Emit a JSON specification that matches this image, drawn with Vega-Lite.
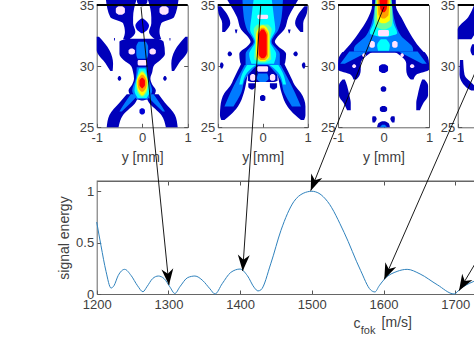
{
"$schema":"https://vega.github.io/schema/vega-lite/v6.json",
"width":474,"height":355,"padding":0,"autosize":{"type":"none"},
"background":"white",
"config":{"view":{"stroke":null},"axis":{"grid":false,"tickSize":-4,"tickColor":"#555555","domainColor":"#666666","labelFont":"Liberation Sans","labelColor":"#404040","labelFontSize":13,"labelPadding":7,"labelOverlap":false,"labelFlush":false,"titleFont":"Liberation Sans","titleFontWeight":"normal","titleColor":"#404040","titleFontSize":14}},
"data":{"values":[
{"p":1,"s":"1a","v":0.05,"z":25,"a":-0.78,"b":-0.52},{"p":1,"s":"1a","v":0.05,"z":26,"a":-0.72,"b":-0.42},{"p":1,"s":"1a","v":0.05,"z":27,"a":-0.5,"b":-0.15},{"p":1,"s":"1a","v":0.05,"z":27.7,"a":-0.34,"b":-0.08},
{"p":1,"s":"1b","v":0.05,"z":25,"a":0.52,"b":0.78},{"p":1,"s":"1b","v":0.05,"z":26,"a":0.42,"b":0.72},{"p":1,"s":"1b","v":0.05,"z":27,"a":0.15,"b":0.5},{"p":1,"s":"1b","v":0.05,"z":27.7,"a":0.08,"b":0.36},
{"p":1,"s":"1c","v":0.05,"z":27.2,"a":-0.02,"b":0.02},{"p":1,"s":"1c","v":0.05,"z":27.4,"a":-0.2,"b":0.2},{"p":1,"s":"1c","v":0.05,"z":28,"a":-0.3,"b":0.3},{"p":1,"s":"1c","v":0.05,"z":28.5,"a":-0.22,"b":0.22},{"p":1,"s":"1c","v":0.05,"z":29,"a":-0.18,"b":0.18},{"p":1,"s":"1c","v":0.05,"z":29.5,"a":-0.2,"b":0.22},{"p":1,"s":"1c","v":0.05,"z":30,"a":-0.24,"b":0.25},{"p":1,"s":"1c","v":0.05,"z":30.5,"a":-0.41,"b":0.4},{"p":1,"s":"1c","v":0.05,"z":31,"a":-0.5,"b":0.5},{"p":1,"s":"1c","v":0.05,"z":32,"a":-0.5,"b":0.47},{"p":1,"s":"1c","v":0.05,"z":32.25,"a":-0.35,"b":0.35},
{"p":1,"s":"1d","v":0.05,"z":32.2,"a":-0.42,"b":-0.28},{"p":1,"s":"1d","v":0.05,"z":32.8,"a":-0.38,"b":-0.15},{"p":1,"s":"1d","v":0.05,"z":33.5,"a":-0.42,"b":-0.2},{"p":1,"s":"1d","v":0.05,"z":34,"a":-0.7,"b":-0.2},{"p":1,"s":"1d","v":0.05,"z":35.5,"a":-0.8,"b":-0.12},
{"p":1,"s":"1e","v":0.05,"z":32.2,"a":0.28,"b":0.42},{"p":1,"s":"1e","v":0.05,"z":32.8,"a":0.15,"b":0.38},{"p":1,"s":"1e","v":0.05,"z":33.5,"a":0.2,"b":0.42},{"p":1,"s":"1e","v":0.05,"z":34,"a":0.2,"b":0.7},{"p":1,"s":"1e","v":0.05,"z":35.5,"a":0.12,"b":0.8},
{"p":1,"s":"1f","v":0.08,"z":32.7,"a":-0.02,"b":0.02},{"p":1,"s":"1f","v":0.08,"z":33,"a":-0.12,"b":0.12},{"p":1,"s":"1f","v":0.08,"z":33.3,"a":-0.15,"b":0.15},{"p":1,"s":"1f","v":0.08,"z":33.6,"a":-0.11,"b":0.11},{"p":1,"s":"1f","v":0.08,"z":33.9,"a":-0.02,"b":0.02},
{"p":1,"s":"1g","v":0.05,"z":34.9,"a":-0.02,"b":0.02},{"p":1,"s":"1g","v":0.05,"z":35.2,"a":-0.11,"b":0.11},{"p":1,"s":"1g","v":0.05,"z":35.5,"a":-0.12,"b":0.12},
{"p":1,"s":"1h","v":0.05,"z":29.6,"a":-0.7,"b":-0.65},{"p":1,"s":"1h","v":0.05,"z":30.2,"a":-0.8,"b":-0.64},{"p":1,"s":"1h","v":0.05,"z":31.3,"a":-1,"b":-0.72},{"p":1,"s":"1h","v":0.05,"z":32.4,"a":-1,"b":-0.95},
{"p":1,"s":"1i","v":0.05,"z":29.6,"a":0.65,"b":0.7},{"p":1,"s":"1i","v":0.05,"z":30.2,"a":0.64,"b":0.8},{"p":1,"s":"1i","v":0.05,"z":31.3,"a":0.72,"b":1},{"p":1,"s":"1i","v":0.05,"z":32.4,"a":0.95,"b":1},
{"p":1,"s":"1j","v":0.05,"z":28.8,"a":-0.51,"b":-0.49},{"p":1,"s":"1j","v":0.05,"z":29,"a":-0.54,"b":-0.46},{"p":1,"s":"1j","v":0.05,"z":29.2,"a":-0.51,"b":-0.49},
{"p":1,"s":"1k","v":0.05,"z":28.8,"a":0.49,"b":0.51},{"p":1,"s":"1k","v":0.05,"z":29,"a":0.46,"b":0.54},{"p":1,"s":"1k","v":0.05,"z":29.2,"a":0.49,"b":0.51},
{"p":1,"s":"1l","v":0.08,"z":26.05,"a":-0.02,"b":0.02},{"p":1,"s":"1l","v":0.08,"z":26.2,"a":-0.06,"b":0.06},{"p":1,"s":"1l","v":0.08,"z":26.4,"a":-0.06,"b":0.06},{"p":1,"s":"1l","v":0.08,"z":26.55,"a":-0.02,"b":0.02},
{"p":1,"s":"1m","v":0.05,"z":32.1,"a":-0.62,"b":-0.6},{"p":1,"s":"1m","v":0.05,"z":32.3,"a":-0.62,"b":-0.6},
{"p":1,"s":"1n","v":0.05,"z":32.1,"a":0.6,"b":0.62},{"p":1,"s":"1n","v":0.05,"z":32.3,"a":0.6,"b":0.62},
{"p":1,"s":"1o","v":0.2,"z":26.3,"a":-0.5,"b":-0.45},{"p":1,"s":"1o","v":0.2,"z":27,"a":-0.38,"b":-0.25},{"p":1,"s":"1o","v":0.2,"z":27.7,"a":-0.25,"b":-0.08},
{"p":1,"s":"1p","v":0.2,"z":26.3,"a":0.45,"b":0.5},{"p":1,"s":"1p","v":0.2,"z":27,"a":0.25,"b":0.38},{"p":1,"s":"1p","v":0.2,"z":27.7,"a":0.08,"b":0.25},
{"p":1,"s":"1q","v":0.2,"z":30.6,"a":-0.1,"b":0.1},{"p":1,"s":"1q","v":0.2,"z":31,"a":-0.13,"b":0.13},{"p":1,"s":"1q","v":0.2,"z":31.6,"a":-0.13,"b":0.13},{"p":1,"s":"1q","v":0.2,"z":32,"a":-0.08,"b":0.08},
{"p":1,"s":"1r","v":0.2,"z":27.3,"a":-0.12,"b":0.12},{"p":1,"s":"1r","v":0.2,"z":28,"a":-0.22,"b":0.22},{"p":1,"s":"1r","v":0.2,"z":29,"a":-0.14,"b":0.14},{"p":1,"s":"1r","v":0.2,"z":29.9,"a":-0.12,"b":0.12},
{"p":1,"s":"1s","v":0.375,"z":27.4,"a":-0.1,"b":0.1},{"p":1,"s":"1s","v":0.375,"z":28,"a":-0.17,"b":0.17},{"p":1,"s":"1s","v":0.375,"z":29,"a":-0.12,"b":0.12},{"p":1,"s":"1s","v":0.375,"z":29.8,"a":-0.07,"b":0.07},
{"p":1,"s":"1t","v":0.5,"z":27.5,"a":-0.03,"b":0.03},{"p":1,"s":"1t","v":0.5,"z":27.9,"a":-0.11,"b":0.11},{"p":1,"s":"1t","v":0.5,"z":28.5,"a":-0.13,"b":0.13},{"p":1,"s":"1t","v":0.5,"z":29.2,"a":-0.1,"b":0.1},{"p":1,"s":"1t","v":0.5,"z":29.65,"a":-0.02,"b":0.02},
{"p":1,"s":"1u","v":0.625,"z":27.6,"a":-0.02,"b":0.02},{"p":1,"s":"1u","v":0.625,"z":28.1,"a":-0.1,"b":0.1},{"p":1,"s":"1u","v":0.625,"z":28.7,"a":-0.12,"b":0.12},{"p":1,"s":"1u","v":0.625,"z":29.2,"a":-0.08,"b":0.08},{"p":1,"s":"1u","v":0.625,"z":29.5,"a":-0.02,"b":0.02},
{"p":1,"s":"1v","v":0.75,"z":27.9,"a":-0.02,"b":0.02},{"p":1,"s":"1v","v":0.75,"z":28.3,"a":-0.09,"b":0.09},{"p":1,"s":"1v","v":0.75,"z":28.7,"a":-0.1,"b":0.1},{"p":1,"s":"1v","v":0.75,"z":29.05,"a":-0.07,"b":0.07},{"p":1,"s":"1v","v":0.75,"z":29.3,"a":-0.02,"b":0.02},
{"p":1,"s":"1w","v":0.875,"z":28.2,"a":-0.01,"b":0.01},{"p":1,"s":"1w","v":0.875,"z":28.45,"a":-0.06,"b":0.06},{"p":1,"s":"1w","v":0.875,"z":28.8,"a":-0.06,"b":0.06},{"p":1,"s":"1w","v":0.875,"z":29.05,"a":-0.01,"b":0.01},
{"p":1,"s":"1x","v":0,"z":34.2,"a":-0.52,"b":-0.44},{"p":1,"s":"1x","v":0,"z":34.4,"a":-0.58,"b":-0.38},{"p":1,"s":"1x","v":0,"z":34.7,"a":-0.58,"b":-0.38},{"p":1,"s":"1x","v":0,"z":34.9,"a":-0.52,"b":-0.44},
{"p":1,"s":"1y","v":0,"z":34.2,"a":0.44,"b":0.52},{"p":1,"s":"1y","v":0,"z":34.4,"a":0.38,"b":0.58},{"p":1,"s":"1y","v":0,"z":34.7,"a":0.38,"b":0.58},{"p":1,"s":"1y","v":0,"z":34.9,"a":0.44,"b":0.52},
{"p":1,"s":"1z","v":0,"z":30.95,"a":-0.25,"b":-0.21},{"p":1,"s":"1z","v":0,"z":31.1,"a":-0.3,"b":-0.16},{"p":1,"s":"1z","v":0,"z":31.3,"a":-0.3,"b":-0.16},{"p":1,"s":"1z","v":0,"z":31.45,"a":-0.25,"b":-0.21},
{"p":1,"s":"1A","v":0,"z":30.95,"a":0.21,"b":0.25},{"p":1,"s":"1A","v":0,"z":31.1,"a":0.16,"b":0.3},{"p":1,"s":"1A","v":0,"z":31.3,"a":0.16,"b":0.3},{"p":1,"s":"1A","v":0,"z":31.45,"a":0.21,"b":0.25},
{"p":1,"s":"1B","v":0,"z":30.05,"a":-0.08,"b":0.08},{"p":1,"s":"1B","v":0,"z":30.15,"a":-0.1,"b":0.1},{"p":1,"s":"1B","v":0,"z":30.4,"a":-0.1,"b":0.1},{"p":1,"s":"1B","v":0,"z":30.5,"a":-0.08,"b":0.08},

{"p":2,"s":"2a","v":0.05,"z":25.6,"a":-0.92,"b":-0.85},{"p":2,"s":"2a","v":0.05,"z":26,"a":-0.95,"b":-0.72},{"p":2,"s":"2a","v":0.05,"z":26.7,"a":-0.94,"b":-0.55},{"p":2,"s":"2a","v":0.05,"z":27.8,"a":-0.85,"b":-0.42},{"p":2,"s":"2a","v":0.05,"z":28.4,"a":-0.72,"b":-0.38},{"p":2,"s":"2a","v":0.05,"z":29,"a":-0.64,"b":-0.35},{"p":2,"s":"2a","v":0.05,"z":29.6,"a":-0.56,"b":-0.3},{"p":2,"s":"2a","v":0.05,"z":30.2,"a":-0.48,"b":-0.1},
{"p":2,"s":"2b","v":0.05,"z":25.6,"a":0.85,"b":0.92},{"p":2,"s":"2b","v":0.05,"z":26,"a":0.72,"b":0.95},{"p":2,"s":"2b","v":0.05,"z":26.7,"a":0.55,"b":0.95},{"p":2,"s":"2b","v":0.05,"z":27.8,"a":0.42,"b":0.85},{"p":2,"s":"2b","v":0.05,"z":28.4,"a":0.38,"b":0.72},{"p":2,"s":"2b","v":0.05,"z":29,"a":0.35,"b":0.64},{"p":2,"s":"2b","v":0.05,"z":29.6,"a":0.3,"b":0.56},{"p":2,"s":"2b","v":0.05,"z":30.2,"a":0.1,"b":0.48},
{"p":2,"s":"2c","v":0.05,"z":29.7,"a":-0.3,"b":0.3},{"p":2,"s":"2c","v":0.05,"z":30.3,"a":-0.5,"b":0.5},{"p":2,"s":"2c","v":0.05,"z":31,"a":-0.52,"b":0.52},{"p":2,"s":"2c","v":0.05,"z":31.7,"a":-0.32,"b":0.32},{"p":2,"s":"2c","v":0.05,"z":32,"a":-0.27,"b":0.27},{"p":2,"s":"2c","v":0.05,"z":32.4,"a":-0.33,"b":0.33},{"p":2,"s":"2c","v":0.05,"z":33,"a":-0.48,"b":0.48},{"p":2,"s":"2c","v":0.05,"z":34,"a":-0.57,"b":0.57},{"p":2,"s":"2c","v":0.05,"z":35,"a":-0.72,"b":0.72},{"p":2,"s":"2c","v":0.05,"z":35.5,"a":-0.8,"b":0.8},
{"p":2,"s":"2d","v":0.05,"z":28.7,"a":-0.25,"b":0.25},{"p":2,"s":"2d","v":0.05,"z":28.8,"a":-0.33,"b":0.33},{"p":2,"s":"2d","v":0.05,"z":29.4,"a":-0.33,"b":0.33},{"p":2,"s":"2d","v":0.05,"z":29.9,"a":-0.25,"b":0.25},
{"p":2,"s":"2e","v":0.05,"z":32.8,"a":-0.9,"b":-0.84},{"p":2,"s":"2e","v":0.05,"z":33.5,"a":-0.9,"b":-0.72},{"p":2,"s":"2e","v":0.05,"z":34.3,"a":-0.98,"b":-0.8},{"p":2,"s":"2e","v":0.05,"z":34.9,"a":-1,"b":-0.93},
{"p":2,"s":"2f","v":0.05,"z":32.8,"a":0.84,"b":0.9},{"p":2,"s":"2f","v":0.05,"z":33.5,"a":0.72,"b":0.9},{"p":2,"s":"2f","v":0.05,"z":34.3,"a":0.8,"b":0.98},{"p":2,"s":"2f","v":0.05,"z":34.9,"a":0.93,"b":1},
{"p":2,"s":"2g","v":0.05,"z":30.8,"a":-0.75,"b":-0.72},{"p":2,"s":"2g","v":0.05,"z":31,"a":-0.78,"b":-0.68},{"p":2,"s":"2g","v":0.05,"z":31.2,"a":-0.75,"b":-0.72},
{"p":2,"s":"2h","v":0.05,"z":30.8,"a":0.72,"b":0.75},{"p":2,"s":"2h","v":0.05,"z":31,"a":0.68,"b":0.78},{"p":2,"s":"2h","v":0.05,"z":31.2,"a":0.72,"b":0.75},
{"p":2,"s":"2i","v":0.05,"z":29.8,"a":-0.93,"b":-0.9},{"p":2,"s":"2i","v":0.05,"z":30.1,"a":-0.95,"b":-0.87},{"p":2,"s":"2i","v":0.05,"z":30.3,"a":-0.93,"b":-0.9},
{"p":2,"s":"2j","v":0.05,"z":29.8,"a":0.9,"b":0.93},{"p":2,"s":"2j","v":0.05,"z":30.1,"a":0.87,"b":0.95},{"p":2,"s":"2j","v":0.05,"z":30.3,"a":0.9,"b":0.93},
{"p":2,"s":"2k","v":0.05,"z":32.7,"a":-0.6,"b":-0.58},{"p":2,"s":"2k","v":0.05,"z":33,"a":-0.62,"b":-0.56},
{"p":2,"s":"2l","v":0.05,"z":32.7,"a":0.58,"b":0.6},{"p":2,"s":"2l","v":0.05,"z":33,"a":0.56,"b":0.62},
{"p":2,"s":"2m","v":0.05,"z":28.1,"a":-0.26,"b":-0.22},{"p":2,"s":"2m","v":0.05,"z":28.3,"a":-0.32,"b":-0.16},{"p":2,"s":"2m","v":0.05,"z":28.6,"a":-0.32,"b":-0.16},
{"p":2,"s":"2n","v":0.05,"z":28.1,"a":0.22,"b":0.26},{"p":2,"s":"2n","v":0.05,"z":28.3,"a":0.16,"b":0.32},{"p":2,"s":"2n","v":0.05,"z":28.6,"a":0.16,"b":0.32},
{"p":2,"s":"2o","v":0.05,"z":27.15,"a":-0.02,"b":0.02},{"p":2,"s":"2o","v":0.05,"z":27.3,"a":-0.06,"b":0.06},{"p":2,"s":"2o","v":0.05,"z":27.5,"a":-0.06,"b":0.06},{"p":2,"s":"2o","v":0.05,"z":27.65,"a":-0.02,"b":0.02},
{"p":2,"s":"2p","v":0.2,"z":26.7,"a":-0.85,"b":-0.65},{"p":2,"s":"2p","v":0.2,"z":27.8,"a":-0.72,"b":-0.48},{"p":2,"s":"2p","v":0.2,"z":29,"a":-0.56,"b":-0.38},{"p":2,"s":"2p","v":0.2,"z":30.1,"a":-0.4,"b":-0.12},
{"p":2,"s":"2q","v":0.2,"z":26.7,"a":0.65,"b":0.85},{"p":2,"s":"2q","v":0.2,"z":27.8,"a":0.48,"b":0.72},{"p":2,"s":"2q","v":0.2,"z":29,"a":0.38,"b":0.56},{"p":2,"s":"2q","v":0.2,"z":30.1,"a":0.12,"b":0.4},
{"p":2,"s":"2C","v":0.375,"z":28.5,"a":-0.52,"b":-0.45},{"p":2,"s":"2C","v":0.375,"z":29.5,"a":-0.44,"b":-0.34},{"p":2,"s":"2C","v":0.375,"z":30.2,"a":-0.33,"b":-0.12},
{"p":2,"s":"2D","v":0.375,"z":28.5,"a":0.45,"b":0.52},{"p":2,"s":"2D","v":0.375,"z":29.5,"a":0.34,"b":0.44},{"p":2,"s":"2D","v":0.375,"z":30.2,"a":0.12,"b":0.33},
{"p":2,"s":"2r","v":0.2,"z":28.7,"a":-0.06,"b":0.06},{"p":2,"s":"2r","v":0.2,"z":29,"a":-0.13,"b":0.13},{"p":2,"s":"2r","v":0.2,"z":29.4,"a":-0.1,"b":0.1},
{"p":2,"s":"2s","v":0.2,"z":30.1,"a":-0.38,"b":0.38},{"p":2,"s":"2s","v":0.2,"z":31,"a":-0.38,"b":0.38},{"p":2,"s":"2s","v":0.2,"z":32,"a":-0.2,"b":0.2},{"p":2,"s":"2s","v":0.2,"z":33,"a":-0.35,"b":0.35},{"p":2,"s":"2s","v":0.2,"z":34,"a":-0.42,"b":0.42},{"p":2,"s":"2s","v":0.2,"z":35.5,"a":-0.45,"b":0.45},
{"p":2,"s":"2t","v":0.375,"z":30.2,"a":-0.25,"b":0.25},{"p":2,"s":"2t","v":0.375,"z":31,"a":-0.3,"b":0.3},{"p":2,"s":"2t","v":0.375,"z":32,"a":-0.17,"b":0.17},{"p":2,"s":"2t","v":0.375,"z":33,"a":-0.28,"b":0.28},{"p":2,"s":"2t","v":0.375,"z":34,"a":-0.25,"b":0.25},{"p":2,"s":"2t","v":0.375,"z":35.5,"a":-0.2,"b":0.2},
{"p":2,"s":"2u","v":0.5,"z":30.3,"a":-0.05,"b":0.05},{"p":2,"s":"2u","v":0.5,"z":30.6,"a":-0.19,"b":0.19},{"p":2,"s":"2u","v":0.5,"z":32,"a":-0.16,"b":0.16},{"p":2,"s":"2u","v":0.5,"z":33,"a":-0.2,"b":0.2},{"p":2,"s":"2u","v":0.5,"z":33.4,"a":-0.12,"b":0.12},
{"p":2,"s":"2v","v":0.625,"z":30.4,"a":-0.05,"b":0.05},{"p":2,"s":"2v","v":0.625,"z":30.8,"a":-0.15,"b":0.15},{"p":2,"s":"2v","v":0.625,"z":32.5,"a":-0.15,"b":0.15},{"p":2,"s":"2v","v":0.625,"z":33.2,"a":-0.08,"b":0.08},{"p":2,"s":"2v","v":0.625,"z":33.35,"a":-0.02,"b":0.02},
{"p":2,"s":"2w","v":0.75,"z":30.5,"a":-0.05,"b":0.05},{"p":2,"s":"2w","v":0.75,"z":30.9,"a":-0.12,"b":0.12},{"p":2,"s":"2w","v":0.75,"z":32.6,"a":-0.12,"b":0.12},{"p":2,"s":"2w","v":0.75,"z":33.15,"a":-0.03,"b":0.03},
{"p":2,"s":"2x","v":0.875,"z":30.65,"a":-0.03,"b":0.03},{"p":2,"s":"2x","v":0.875,"z":31,"a":-0.09,"b":0.09},{"p":2,"s":"2x","v":0.875,"z":32.5,"a":-0.09,"b":0.09},{"p":2,"s":"2x","v":0.875,"z":33,"a":-0.03,"b":0.03},
{"p":2,"s":"2y","v":0,"z":33.85,"a":-0.1,"b":0.1},{"p":2,"s":"2y","v":0,"z":33.95,"a":-0.12,"b":0.12},{"p":2,"s":"2y","v":0,"z":34.1,"a":-0.12,"b":0.12},{"p":2,"s":"2y","v":0,"z":34.2,"a":-0.1,"b":0.1},
{"p":2,"s":"2z","v":0,"z":29.55,"a":-0.1,"b":0.1},{"p":2,"s":"2z","v":0,"z":29.65,"a":-0.12,"b":0.12},{"p":2,"s":"2z","v":0,"z":29.9,"a":-0.12,"b":0.12},{"p":2,"s":"2z","v":0,"z":30,"a":-0.1,"b":0.1},
{"p":2,"s":"2A","v":0,"z":28.8,"a":-0.24,"b":-0.2},{"p":2,"s":"2A","v":0,"z":28.95,"a":-0.28,"b":-0.16},{"p":2,"s":"2A","v":0,"z":29.2,"a":-0.28,"b":-0.16},{"p":2,"s":"2A","v":0,"z":29.35,"a":-0.24,"b":-0.2},
{"p":2,"s":"2B","v":0,"z":28.8,"a":0.2,"b":0.24},{"p":2,"s":"2B","v":0,"z":28.95,"a":0.16,"b":0.28},{"p":2,"s":"2B","v":0,"z":29.2,"a":0.16,"b":0.28},{"p":2,"s":"2B","v":0,"z":29.35,"a":0.2,"b":0.24},

{"p":3,"s":"3a","v":0.05,"z":31.1,"a":-0.9,"b":0.9},{"p":3,"s":"3a","v":0.05,"z":31.5,"a":-0.8,"b":0.8},{"p":3,"s":"3a","v":0.05,"z":32.7,"a":-0.55,"b":0.58},{"p":3,"s":"3a","v":0.05,"z":33.8,"a":-0.36,"b":0.42},{"p":3,"s":"3a","v":0.05,"z":35,"a":-0.25,"b":0.27},{"p":3,"s":"3a","v":0.05,"z":35.5,"a":-0.25,"b":0.27},
{"p":3,"s":"3b","v":0.05,"z":28.9,"a":-0.66,"b":-0.6},{"p":3,"s":"3b","v":0.05,"z":29.3,"a":-0.72,"b":-0.52},{"p":3,"s":"3b","v":0.05,"z":29.7,"a":-1,"b":-0.5},{"p":3,"s":"3b","v":0.05,"z":30.2,"a":-1,"b":-0.5},{"p":3,"s":"3b","v":0.05,"z":30.7,"a":-0.98,"b":-0.42},{"p":3,"s":"3b","v":0.05,"z":31.15,"a":-0.9,"b":-0.25},
{"p":3,"s":"3c","v":0.05,"z":28.9,"a":0.6,"b":0.66},{"p":3,"s":"3c","v":0.05,"z":29.3,"a":0.52,"b":0.72},{"p":3,"s":"3c","v":0.05,"z":29.7,"a":0.5,"b":1},{"p":3,"s":"3c","v":0.05,"z":30.2,"a":0.5,"b":1},{"p":3,"s":"3c","v":0.05,"z":30.7,"a":0.42,"b":0.98},{"p":3,"s":"3c","v":0.05,"z":31.15,"a":0.25,"b":0.9},
{"p":3,"s":"3d","v":0.05,"z":26.4,"a":-0.8,"b":-0.72},{"p":3,"s":"3d","v":0.05,"z":27,"a":-0.88,"b":-0.72},{"p":3,"s":"3d","v":0.05,"z":27.6,"a":-0.98,"b":-0.75},{"p":3,"s":"3d","v":0.05,"z":28.4,"a":-0.98,"b":-0.8},{"p":3,"s":"3d","v":0.05,"z":28.9,"a":-0.9,"b":-0.85},
{"p":3,"s":"3e","v":0.05,"z":26.4,"a":0.72,"b":0.8},{"p":3,"s":"3e","v":0.05,"z":27,"a":0.72,"b":0.88},{"p":3,"s":"3e","v":0.05,"z":27.6,"a":0.75,"b":0.98},{"p":3,"s":"3e","v":0.05,"z":28.4,"a":0.8,"b":0.98},{"p":3,"s":"3e","v":0.05,"z":28.9,"a":0.85,"b":0.9},
{"p":3,"s":"3f","v":0.06,"z":29.45,"a":-0.03,"b":0.03},{"p":3,"s":"3f","v":0.06,"z":29.65,"a":-0.1,"b":0.1},{"p":3,"s":"3f","v":0.06,"z":29.95,"a":-0.1,"b":0.1},{"p":3,"s":"3f","v":0.06,"z":30.15,"a":-0.03,"b":0.03},
{"p":3,"s":"3g","v":0.05,"z":27.9,"a":-0.02,"b":0.02},{"p":3,"s":"3g","v":0.05,"z":28.05,"a":-0.06,"b":0.06},{"p":3,"s":"3g","v":0.05,"z":28.2,"a":-0.06,"b":0.06},{"p":3,"s":"3g","v":0.05,"z":28.35,"a":-0.02,"b":0.02},
{"p":3,"s":"3h","v":0.05,"z":26.25,"a":-0.03,"b":0.03},{"p":3,"s":"3h","v":0.05,"z":26.4,"a":-0.08,"b":0.08},{"p":3,"s":"3h","v":0.05,"z":26.6,"a":-0.08,"b":0.08},{"p":3,"s":"3h","v":0.05,"z":26.75,"a":-0.03,"b":0.03},
{"p":3,"s":"3i","v":0.05,"z":25,"a":-0.14,"b":0.14},{"p":3,"s":"3i","v":0.05,"z":25.3,"a":-0.12,"b":0.12},{"p":3,"s":"3i","v":0.05,"z":25.5,"a":-0.03,"b":0.03},
{"p":3,"s":"3j","v":0.05,"z":25.4,"a":-0.24,"b":-0.19},{"p":3,"s":"3j","v":0.05,"z":25.7,"a":-0.25,"b":-0.15},{"p":3,"s":"3j","v":0.05,"z":25.9,"a":-0.24,"b":-0.18},
{"p":3,"s":"3k","v":0.05,"z":25.4,"a":0.19,"b":0.24},{"p":3,"s":"3k","v":0.05,"z":25.7,"a":0.15,"b":0.25},{"p":3,"s":"3k","v":0.05,"z":25.9,"a":0.18,"b":0.24},
{"p":3,"s":"3l","v":0.2,"z":25,"a":-0.08,"b":0.08},{"p":3,"s":"3l","v":0.2,"z":25.2,"a":-0.03,"b":0.03},
{"p":3,"s":"3m","v":0.2,"z":31.2,"a":-0.65,"b":0.65},{"p":3,"s":"3m","v":0.2,"z":31.4,"a":-0.65,"b":0.65},{"p":3,"s":"3m","v":0.2,"z":32.5,"a":-0.38,"b":0.38},{"p":3,"s":"3m","v":0.2,"z":33.5,"a":-0.26,"b":0.26},{"p":3,"s":"3m","v":0.2,"z":35.5,"a":-0.18,"b":0.18},
{"p":3,"s":"3M","v":0.2,"z":30.2,"a":-0.95,"b":-0.85},{"p":3,"s":"3M","v":0.2,"z":31.2,"a":-0.75,"b":-0.33},
{"p":3,"s":"3n","v":0.2,"z":30.2,"a":0.85,"b":0.95},{"p":3,"s":"3n","v":0.2,"z":31.2,"a":0.33,"b":0.75},
{"p":3,"s":"3o","v":0.375,"z":31.25,"a":-0.12,"b":0.12},{"p":3,"s":"3o","v":0.375,"z":31.7,"a":-0.14,"b":0.14},{"p":3,"s":"3o","v":0.375,"z":32.2,"a":-0.06,"b":0.06},
{"p":3,"s":"3p","v":0.375,"z":32.4,"a":-0.06,"b":0.06},{"p":3,"s":"3p","v":0.375,"z":32.7,"a":-0.3,"b":0.3},{"p":3,"s":"3p","v":0.375,"z":33.5,"a":-0.22,"b":0.22},{"p":3,"s":"3p","v":0.375,"z":35.5,"a":-0.16,"b":0.16},
{"p":3,"s":"3q","v":0.5,"z":33.0,"a":-0.04,"b":0.04},{"p":3,"s":"3q","v":0.5,"z":33.3,"a":-0.18,"b":0.18},{"p":3,"s":"3q","v":0.5,"z":34,"a":-0.2,"b":0.2},{"p":3,"s":"3q","v":0.5,"z":35.5,"a":-0.17,"b":0.17},
{"p":3,"s":"3r","v":0.625,"z":33.5,"a":-0.04,"b":0.04},{"p":3,"s":"3r","v":0.625,"z":33.8,"a":-0.14,"b":0.14},{"p":3,"s":"3r","v":0.625,"z":35.5,"a":-0.15,"b":0.15},
{"p":3,"s":"3s","v":0.75,"z":33.9,"a":-0.03,"b":0.03},{"p":3,"s":"3s","v":0.75,"z":34.2,"a":-0.11,"b":0.11},{"p":3,"s":"3s","v":0.75,"z":35.5,"a":-0.13,"b":0.13},
{"p":3,"s":"3t","v":0.875,"z":34.4,"a":-0.02,"b":0.02},{"p":3,"s":"3t","v":0.875,"z":34.7,"a":-0.07,"b":0.07},{"p":3,"s":"3t","v":0.875,"z":35.5,"a":-0.09,"b":0.09},
{"p":3,"s":"3u","v":0,"z":32.45,"a":-0.1,"b":0.1},{"p":3,"s":"3u","v":0,"z":32.55,"a":-0.12,"b":0.12},{"p":3,"s":"3u","v":0,"z":32.85,"a":-0.12,"b":0.12},{"p":3,"s":"3u","v":0,"z":32.95,"a":-0.1,"b":0.1},
{"p":3,"s":"3v","v":0,"z":31.5,"a":-0.27,"b":-0.23},{"p":3,"s":"3v","v":0,"z":31.65,"a":-0.31,"b":-0.19},{"p":3,"s":"3v","v":0,"z":31.9,"a":-0.31,"b":-0.19},{"p":3,"s":"3v","v":0,"z":32.05,"a":-0.27,"b":-0.23},
{"p":3,"s":"3w","v":0,"z":31.5,"a":0.23,"b":0.27},{"p":3,"s":"3w","v":0,"z":31.65,"a":0.19,"b":0.31},{"p":3,"s":"3w","v":0,"z":31.9,"a":0.19,"b":0.31},{"p":3,"s":"3w","v":0,"z":32.05,"a":0.23,"b":0.27},
{"p":3,"s":"3x","v":0,"z":29.85,"a":-0.66,"b":-0.63},{"p":3,"s":"3x","v":0,"z":30,"a":-0.69,"b":-0.6},{"p":3,"s":"3x","v":0,"z":30.15,"a":-0.66,"b":-0.63},
{"p":3,"s":"3y","v":0,"z":29.85,"a":0.61,"b":0.65},{"p":3,"s":"3y","v":0,"z":30,"a":0.58,"b":0.68},{"p":3,"s":"3y","v":0,"z":30.15,"a":0.61,"b":0.65},
{"p":3,"s":"3z","v":0,"z":30.75,"a":-0.44,"b":-0.42},{"p":3,"s":"3z","v":0,"z":30.9,"a":-0.47,"b":-0.39},{"p":3,"s":"3z","v":0,"z":31.05,"a":-0.44,"b":-0.42},
{"p":3,"s":"3A","v":0,"z":30.75,"a":0.4,"b":0.42},{"p":3,"s":"3A","v":0,"z":30.9,"a":0.37,"b":0.45},{"p":3,"s":"3A","v":0,"z":31.05,"a":0.4,"b":0.42},

{"p":4,"s":"4a","v":0.05,"z":32.2,"a":-1,"b":-0.7},{"p":4,"s":"4a","v":0.05,"z":33,"a":-1,"b":-0.6},{"p":4,"s":"4a","v":0.05,"z":34,"a":-0.77,"b":-0.6},{"p":4,"s":"4a","v":0.05,"z":35.5,"a":-0.6,"b":-0.5},
{"p":4,"s":"4b","v":0.05,"z":30.9,"a":-0.68,"b":-0.64},{"p":4,"s":"4b","v":0.05,"z":31.3,"a":-0.72,"b":-0.6},{"p":4,"s":"4b","v":0.05,"z":31.8,"a":-0.68,"b":-0.6},
{"p":4,"s":"4c","v":0.05,"z":28,"a":-0.7,"b":-0.6},{"p":4,"s":"4c","v":0.05,"z":28.3,"a":-0.82,"b":-0.62},{"p":4,"s":"4c","v":0.05,"z":29.3,"a":-0.96,"b":-0.85},{"p":4,"s":"4c","v":0.05,"z":30.5,"a":-0.95,"b":-0.88}
]},
"layer":[
{"transform":[{"filter":"datum.p==1"}],"resolve":{"axis":{"x":"independent","y":"independent"}},"layer":[
{"mark":{"type":"area","orient":"horizontal","interpolate":"monotone"},"encoding":{
"x":{"field":"a","type":"quantitative","scale":{"domain":[-1,1],"range":[96.7,187.7]},"axis":{"orient":"bottom","title":"y [mm]","values":[-1,0,1],"labelExpr":"''+datum.value","labelPadding":8,"offset":-227.7,"titlePadding":6}},
"x2":{"field":"b"},
"y":{"field":"z","type":"quantitative","scale":{"domain":[25,35],"range":[127.3,5]},"axis":{"orient":"left","title":null,"values":[25,30,35],"offset":-96.7}},
"detail":{"field":"s"},
"color":{"field":"v","type":"quantitative","legend":null,"scale":{"domain":[0,0.001,0.125,0.375,0.625,0.875,1],"range":["#ffffff","#000090","#0000ff","#00ffff","#ffff00","#ff0000","#800000"]}}}},
{"data":{"values":[{"a":-1,"b":1,"z":35}]},"mark":{"type":"rule","color":"black","strokeWidth":2},"encoding":{"x":{"field":"a","type":"quantitative","axis":null},"x2":{"field":"b"},"y":{"field":"z","type":"quantitative","axis":{"orient":"right","values":[25,30,35],"labels":false,"title":null,"offset":-286.3}}}}
]},
{"transform":[{"filter":"datum.p==2"}],"resolve":{"axis":{"x":"independent","y":"independent"}},"layer":[
{"mark":{"type":"area","orient":"horizontal","interpolate":"monotone"},"encoding":{
"x":{"field":"a","type":"quantitative","scale":{"domain":[-1,1],"range":[217.7,307.7]},"axis":{"orient":"bottom","title":"y [mm]","values":[-1,0,1],"labelExpr":"''+datum.value","labelPadding":8,"offset":-227.7,"titlePadding":6}},
"x2":{"field":"b"},
"y":{"field":"z","type":"quantitative","scale":{"domain":[25,35],"range":[127.3,5]},"axis":{"orient":"left","title":null,"values":[25,30,35],"offset":-217.7}},
"detail":{"field":"s"},
"color":{"field":"v","type":"quantitative","legend":null,"scale":{"domain":[0,0.001,0.125,0.375,0.625,0.875,1],"range":["#ffffff","#000090","#0000ff","#00ffff","#ffff00","#ff0000","#800000"]}}}},
{"data":{"values":[{"a":-1,"b":1,"z":35}]},"mark":{"type":"rule","color":"black","strokeWidth":2},"encoding":{"x":{"field":"a","type":"quantitative","axis":null},"x2":{"field":"b"},"y":{"field":"z","type":"quantitative","axis":{"orient":"right","values":[25,30,35],"labels":false,"title":null,"offset":-166.3}}}}
]},
{"transform":[{"filter":"datum.p==3"}],"resolve":{"axis":{"x":"independent","y":"independent"}},"layer":[
{"mark":{"type":"area","orient":"horizontal","interpolate":"monotone"},"encoding":{
"x":{"field":"a","type":"quantitative","scale":{"domain":[-1,1],"range":[338,429]},"axis":{"orient":"bottom","title":"y [mm]","values":[-1,0,1],"labelExpr":"''+datum.value","labelPadding":8,"offset":-227.7,"titlePadding":6}},
"x2":{"field":"b"},
"y":{"field":"z","type":"quantitative","scale":{"domain":[25,35],"range":[127.3,5]},"axis":{"orient":"left","title":null,"values":[25,30,35],"offset":-338}},
"detail":{"field":"s"},
"color":{"field":"v","type":"quantitative","legend":null,"scale":{"domain":[0,0.001,0.125,0.375,0.625,0.875,1],"range":["#ffffff","#000090","#0000ff","#00ffff","#ffff00","#ff0000","#800000"]}}}},
{"data":{"values":[{"a":-1,"b":1,"z":35}]},"mark":{"type":"rule","color":"black","strokeWidth":2},"encoding":{"x":{"field":"a","type":"quantitative","axis":null},"x2":{"field":"b"},"y":{"field":"z","type":"quantitative","axis":{"orient":"right","values":[25,30,35],"labels":false,"title":null,"offset":-45}}}}
]},
{"transform":[{"filter":"datum.p==4"}],"resolve":{"axis":{"x":"independent","y":"independent"}},"layer":[
{"mark":{"type":"area","orient":"horizontal","interpolate":"monotone"},"encoding":{
"x":{"field":"a","type":"quantitative","scale":{"domain":[-1,1],"range":[457.7,548.7]},"axis":{"orient":"bottom","title":null,"values":[-1],"labelExpr":"''+datum.value","labelPadding":8,"offset":-227.7}},
"x2":{"field":"b"},
"y":{"field":"z","type":"quantitative","scale":{"domain":[25,35],"range":[127.3,5]},"axis":{"orient":"left","title":null,"values":[25,30,35],"offset":-457.7}},
"detail":{"field":"s"},
"color":{"field":"v","type":"quantitative","legend":null,"scale":{"domain":[0,0.001,0.125,0.375,0.625,0.875,1],"range":["#ffffff","#000090","#0000ff","#00ffff","#ffff00","#ff0000","#800000"]}}}},
{"data":{"values":[{"a":-1,"b":1,"z":35}]},"mark":{"type":"rule","color":"black","strokeWidth":2},"encoding":{"x":{"field":"a","type":"quantitative","axis":null},"x2":{"field":"b"},"y":{"field":"z","type":"quantitative","axis":null}}}
]},
{"resolve":{"axis":{"x":"independent","y":"independent"}},"layer":[
{"data":{"values":[
{"cfok":1200,"signal":0.7},{"cfok":1206,"signal":0.47},{"cfok":1213,"signal":0.22},{"cfok":1220,"signal":0.058},{"cfok":1224,"signal":0.08},{"cfok":1230,"signal":0.18},{"cfok":1239,"signal":0.24},{"cfok":1248,"signal":0.18},{"cfok":1257,"signal":0.08},{"cfok":1264.5,"signal":0.022},{"cfok":1270,"signal":0.07},{"cfok":1278,"signal":0.15},{"cfok":1286,"signal":0.175},{"cfok":1294,"signal":0.15},{"cfok":1302,"signal":0.07},{"cfok":1309,"signal":0.005},{"cfok":1316,"signal":0.07},{"cfok":1327,"signal":0.16},{"cfok":1337,"signal":0.175},{"cfok":1348,"signal":0.13},{"cfok":1358,"signal":0.05},{"cfok":1365,"signal":0},{"cfok":1375,"signal":0.1},{"cfok":1387,"signal":0.21},{"cfok":1400,"signal":0.243},{"cfok":1410,"signal":0.18},{"cfok":1420,"signal":0.06},{"cfok":1425,"signal":0.03},{"cfok":1429,"signal":0.04},{"cfok":1443,"signal":0.3},{"cfok":1457,"signal":0.62},{"cfok":1475,"signal":0.9},{"cfok":1488,"signal":0.98},{"cfok":1500,"signal":1},{"cfok":1510,"signal":0.98},{"cfok":1522,"signal":0.9},{"cfok":1545,"signal":0.6},{"cfok":1568,"signal":0.23},{"cfok":1582,"signal":0.04},{"cfok":1588,"signal":0.02},{"cfok":1594,"signal":0.08},{"cfok":1602,"signal":0.15},{"cfok":1619,"signal":0.22},{"cfok":1633,"signal":0.24},{"cfok":1651,"signal":0.195},{"cfok":1675,"signal":0.09},{"cfok":1698.6,"signal":0},{"cfok":1707,"signal":0.05},{"cfok":1725,"signal":0.12},{"cfok":1745,"signal":0.16}
]},"mark":{"type":"line","color":"#2f82bd","strokeWidth":1,"interpolate":"monotone"},"encoding":{
"x":{"field":"cfok","type":"quantitative","scale":{"domain":[1200,1800],"range":[96.7,526.9]},"axis":{"orient":"bottom","title":null,"values":[1200,1300,1400,1500,1600,1700],"format":"d","labelPadding":8,"offset":-61}},
"y":{"field":"signal","type":"quantitative","scale":{"domain":[0,1.1],"range":[294,181]},"axis":{"orient":"left","title":"signal energy","values":[0,0.5,1],"format":".1~f","offset":-96.7,"titlePadding":4}}}},
{"data":{"values":[{"cfok":1200,"cfok2":1800,"signal":1.1}]},"mark":{"type":"rule","color":"#666666"},"encoding":{"x":{"field":"cfok","type":"quantitative","axis":{"orient":"top","title":null,"values":[1300,1400,1500,1600,1700],"labels":false,"offset":-181}},"x2":{"field":"cfok2"},"y":{"field":"signal","type":"quantitative","axis":null}}},
{"data":{"values":[{"id":1,"cfok":1261.8,"signal":2.795},{"id":1,"cfok":1300.8,"signal":0.088},{"id":2,"cfok":1428.7,"signal":2.804},{"id":2,"cfok":1403.6,"signal":0.224},{"id":3,"cfok":1600.7,"signal":2.795},{"id":3,"cfok":1498.5,"signal":1.006},{"id":4,"cfok":1768,"signal":2.795},{"id":4,"cfok":1601.1,"signal":0.143},{"id":5,"cfok":1864,"signal":1.889},{"id":5,"cfok":1705.3,"signal":0.032}]},"mark":{"type":"line","color":"black","strokeWidth":0.9},"encoding":{"x":{"field":"cfok","type":"quantitative","axis":null},"y":{"field":"signal","type":"quantitative","axis":null},"detail":{"field":"id"},"order":{"field":"signal","sort":"descending"}}},
{"data":{"values":[{"cfok":1300.8,"signal":0.088,"bearing":354.3},{"cfok":1403.6,"signal":0.224,"bearing":3.9},{"cfok":1498.5,"signal":1.006,"bearing":21.8},{"cfok":1601.1,"signal":0.143,"bearing":23.7},{"cfok":1705.3,"signal":0.032,"bearing":31}]},"mark":{"type":"point","shape":"M0,0L-0.85,-2.3L0,-1.6L0.85,-2.3Z","filled":true,"color":"black","opacity":1,"size":196},"encoding":{"x":{"field":"cfok","type":"quantitative","axis":null},"y":{"field":"signal","type":"quantitative","axis":null},"angle":{"field":"bearing","type":"quantitative","scale":null}}},
{"data":{"values":[{"t":"c","cfok":1563,"signal":-0.29},{"t":"[m/s]","cfok":1618.5,"signal":-0.282}]},"mark":{"type":"text","font":"Liberation Sans","fontSize":14,"color":"#404040"},"encoding":{"x":{"field":"cfok","type":"quantitative","axis":null},"y":{"field":"signal","type":"quantitative","axis":null},"text":{"field":"t"}}},
{"data":{"values":[{"t":"fok","cfok":1578.6,"signal":-0.358}]},"mark":{"type":"text","font":"Liberation Sans","fontSize":11,"color":"#404040"},"encoding":{"x":{"field":"cfok","type":"quantitative","axis":null},"y":{"field":"signal","type":"quantitative","axis":null},"text":{"field":"t"}}}
]}
],
"resolve":{"scale":{"x":"independent","y":"independent"},"axis":{"x":"independent","y":"independent"}}
}
